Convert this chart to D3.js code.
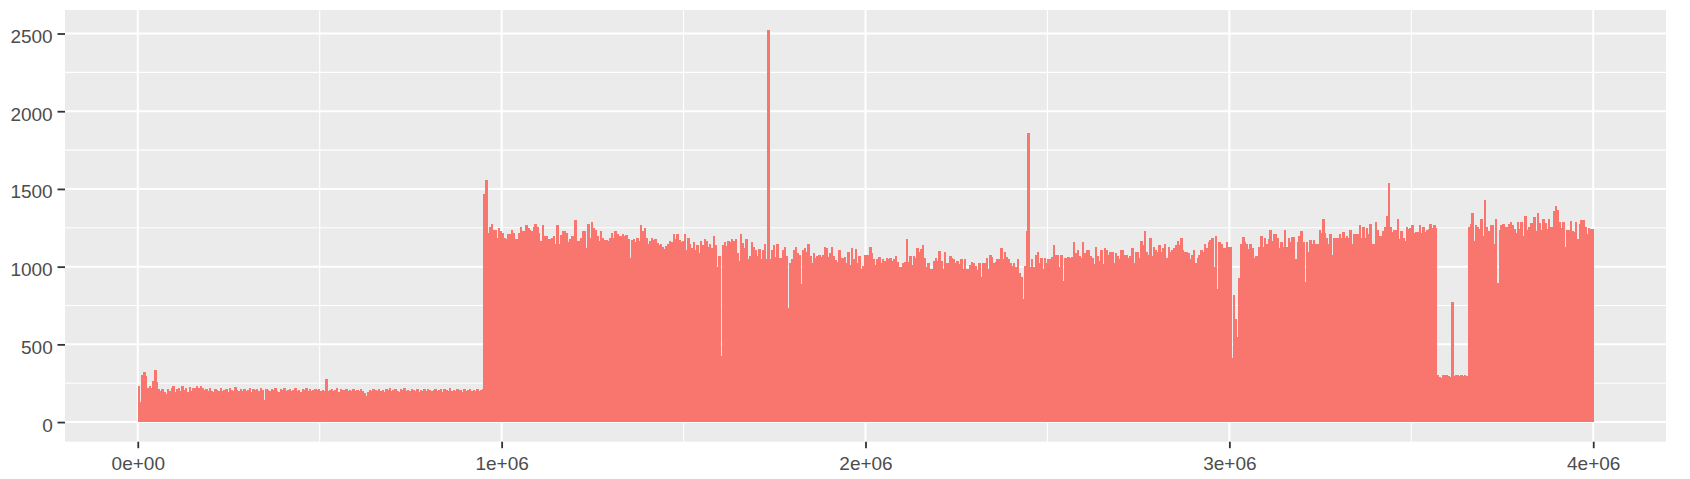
<!DOCTYPE html>
<html><head><meta charset="utf-8">
<script src="https://cdn.jsdelivr.net/npm/d3@7"></script>
<style>body{margin:0;background:#fff} svg{display:block}</style>
</head><body><svg id="chart" width="1690" height="479"></svg>
<script>
const binWidth = 5000;
const countsA = [
233,126,304,321,297,218,235,222,265,336,261,210,197,210,193,180,216,197,218,235,193,210,222,197,235,205,222,193,227,201,218,218,235,222,231,218,
205,212,198,219,203,194,215,208,201,222,
199,206,213,195,218,204,200,226,209,197,
211,203,216,199,207,221,196,210,205,214,
201,218,208,145,212,204,199,215,207,220,
203,196,211,209,217,200,206,213,198,205,
219,202,208,195,214,207,222,201,210,199,
206,213,204,216,198,209,203,276,197,205,
212,200,207,219,196,211,204,208,214,199,
206,201,215,197,209,203,212,198,186,165,
194,207,200,213,205,198,216,202,209,195,
211,204,218,199,207,213,201,196,210,205,
217,203,208,198,212,206,200,214,195,209,
203,211,197,215,206,201,208,213,199,204,
210,196,212,205,200,218,203,207,198,211,
204,209,196,213,201,206,215,199,208,203,
212,198,206,215];
const countsB = [
1467,1557,1219,1255,1274,1236,1236,1184,1249,1230,
1219,1184,1178,1210,1210,1236,1217,1178,1178,1217,
1255,1230,1230,1268,1249,1236,1230,1255,1274,1255,
1217,1165,1268,1197,1197,1178,1178,1184,1197,1146,
1268,1146,1204,1230,1230,1217,1159,1178,1197,1197,
1300,1165,1165,1184,1230,1230,1120,1274,1184,1287,
1249,1236,1197,1165,1230,1184,1171,1171,1165,1184,
1217,1184,1230,1210,1197,1197,1210,1197,1204,1178,
1058,1171,1178,1159,1184,1165,1268,1230,1251,1184,
1146,1165,1184,1171,1178,1152,1140,1146,1127,1112,
1133,1146,1165,1159,1210,1178,1210,1171,1159,1165,
1210,1107,1184,1146,1120,1159,1107,1140,1086,1165,
1140,1178,1165,1127,1146,1120,1197,1140,1000,1069,
428,1140,1159,1133,1165,1159,1178,1165,1178,1090,
1039,1210,1152,1120,1178,1050,1069,1159,1129,1108,
1069,1112,1052,1108,1146,1052,2525,1052,1108,1138,
1065,1146,1058,1058,1108,1129,1069,735,1022,1052,
1108,1125,1086,1075,889,1108,1118,1093,1146,1069,
1026,1090,1054,1067,1075,1065,1075,1125,1120,1060,
1086,1125,1069,1040,1033,1108,1056,1056,1060,1022,
1095,1013,1118,1052,1112,1022,1069,983,1007,1073];
const countsC = [
1073,1075,1129,1086,1048,1011,1050,1065,1022,1052,
1039,1056,1048,1056,1039,1052,1069,1028,1000,1000,
1022,1033,1176,1033,1067,1009,1069,1054,1118,1095,
1112,1138,1054,1000,1022,988,983,1035,1055,1035,
1103,1035,983,1095,1022,1022,1069,1054,1048,1022,
1039,1017,1052,988,1048,988,983,1011,1033,1022,
1005,979,1022,932,1022,1022,1056,983,1073,1065,
1026,1030,1052,1052,1120,1052,1095,1065,1048,1026,
1007,1022,1000,1050,962,936,790,1005,1232,1860,
1000,1052,1000,1075,1097,1022,1058,988,1058,1022,
1052,1052,1060,1138,1075,1075,1000,1073,908,1054,
1054,1060,1054,1065,1157,1090,1108,1069,1056,1159,
1090,1107,1107,1069,1056,1017,1126,1069,1034,1107,
1017,1120,1107,1075,1094,1094,1026,1088,1069,1049,
1107,1107,1075,1075,1056,1069,1120,1026,1094,1094,
1056,1165,1139,1229,1094,1075,1184,1069,1125,1110,
1095,1140,1095,1120,1146,1056,1127,1095,1107,1120,
1140,1165,1140,1184,1107,1095,1095,1088,1050,1075,
1107,1024,1056,1075,1107,1095,1146,1120,1161,1172,
1184,998,1197,857,1159,1146,1120,1120,1159,1127];
const countsD = [
1127,413,818,664,548,927,1146,1191,1159,1146,
1114,1146,1120,1056,1069,1069,1127,1197,1127,1184,
1146,1178,1236,1165,1210,1210,1184,1120,1159,1127,
1236,1127,1184,1159,1189,1189,1050,1159,1197,1229,
1159,902,1159,1095,1172,1146,1172,1146,1146,1236,
1217,1307,1217,1184,1146,1210,1075,1184,1184,1184,
1210,1184,1223,1184,1197,1184,1236,1146,1210,1210,
1210,1268,1184,1255,1184,1249,1210,1274,1146,1146,
1287,1236,1197,1197,1229,1255,1326,1540,1255,1223,
1236,1236,1307,1178,1229,1184,1165,1255,1242,1249,
1268,1217,1223,1223,1268,1217,1255,1223,1236,1242,
1274,1249,1268,1249,304,290,283,300,302,300,
296,290,773,296,302,300,298,300,296,300,
298,1253,1274,1343,1167,1266,1257,1244,1304,1197,
1429,1257,1232,1266,1266,1146,1307,893,1236,1268,
1274,1253,1253,1274,1287,1270,1240,1219,1287,1240,
1287,1197,1326,1236,1253,1279,1279,1317,1232,1347,
1279,1236,1304,1279,1240,1304,1253,1253,1360,1390,
1364,1289,1249,1289,1129,1236,1236,1296,1232,1223,
1287,1180,1274,1300,1300,1253,1210,1249,1240,1240];

const xTicks = [0, 1e6, 2e6, 3e6, 4e6];
const xTickLabels = ["0e+00", "1e+06", "2e+06", "3e+06", "4e+06"];
const xMinorTicks = [0.5e6, 1.5e6, 2.5e6, 3.5e6];
const yTicks = [0, 500, 1000, 1500, 2000, 2500];
const yTickLabels = ["0", "500", "1000", "1500", "2000", "2500"];
const yMinorTicks = [250, 750, 1250, 1750, 2250];
const yTitle = "count";

const counts = countsA.concat(countsB, countsC, countsD);
const bins = counts.map((c, i) => ({x0: i * binWidth, x1: (i + 1) * binWidth, count: c}));

const panel = {left: 65, right: 1666, top: 10, bottom: 441.7};
const xMax = counts.length * binWidth;
const yMax = d3.max(counts);
const x = d3.scaleLinear().domain([-0.05 * xMax, 1.05 * xMax]).range([panel.left, panel.right]);
const y = d3.scaleLinear().domain([-0.05 * yMax, 1.05 * yMax]).range([panel.bottom, panel.top]);

const svg = d3.select("#chart");
const font = "'Liberation Sans', Arial, sans-serif";

svg.append("rect").attr("x", 0).attr("y", 0).attr("width", 1690).attr("height", 479).attr("fill", "#fff");
svg.append("rect")
  .attr("x", panel.left).attr("y", panel.top)
  .attr("width", panel.right - panel.left).attr("height", panel.bottom - panel.top)
  .attr("fill", "#EBEBEB");

const grid = svg.append("g");
grid.selectAll(".ym").data(yMinorTicks).join("line")
  .attr("x1", panel.left).attr("x2", panel.right)
  .attr("y1", d => y(d)).attr("y2", d => y(d))
  .attr("stroke", "#fff").attr("stroke-width", 1.1);
grid.selectAll(".xm").data(xMinorTicks).join("line")
  .attr("y1", panel.top).attr("y2", panel.bottom)
  .attr("x1", d => x(d)).attr("x2", d => x(d))
  .attr("stroke", "#fff").attr("stroke-width", 1.1);
grid.selectAll(".yM").data(yTicks).join("line")
  .attr("x1", panel.left).attr("x2", panel.right)
  .attr("y1", d => y(d)).attr("y2", d => y(d))
  .attr("stroke", "#fff").attr("stroke-width", 2);
grid.selectAll(".xM").data(xTicks).join("line")
  .attr("y1", panel.top).attr("y2", panel.bottom)
  .attr("x1", d => x(d)).attr("x2", d => x(d))
  .attr("stroke", "#fff").attr("stroke-width", 2);

svg.append("g").attr("shape-rendering", "crispEdges")
  .selectAll("rect").data(bins).join("rect")
  .attr("x", d => x(d.x0))
  .attr("width", d => x(d.x1) - x(d.x0) + 0.6)
  .attr("y", d => y(d.count))
  .attr("height", d => y(0) - y(d.count))
  .attr("fill", "#F8766D");

// Axes
const yAxis = svg.append("g")
  .attr("transform", `translate(${panel.left},0)`)
  .call(d3.axisLeft(y).tickValues(yTicks).tickFormat((d, i) => yTickLabels[i]).tickSize(7.5).tickPadding(4.8));
const xAxis = svg.append("g")
  .attr("transform", `translate(0,${panel.bottom})`)
  .call(d3.axisBottom(x).tickValues(xTicks).tickFormat((d, i) => xTickLabels[i]).tickSize(6.5).tickPadding(8));
[yAxis, xAxis].forEach(g => {
  g.select(".domain").remove();
  g.selectAll(".tick line").attr("stroke", "#333333").attr("stroke-width", 1.8);
  g.selectAll(".tick text").attr("fill", "#4D4D4D").style("font-family", font).style("font-size", "19px");
});
yAxis.selectAll(".tick text").attr("dy", "0.47em");

svg.append("text")
  .attr("transform", `translate(-1,${(panel.top + panel.bottom) / 2}) rotate(-90)`)
  .attr("text-anchor", "middle")
  .style("font-family", font).style("font-size", "21px").attr("fill", "#000")
  .text(yTitle);
</script>
</body></html>
